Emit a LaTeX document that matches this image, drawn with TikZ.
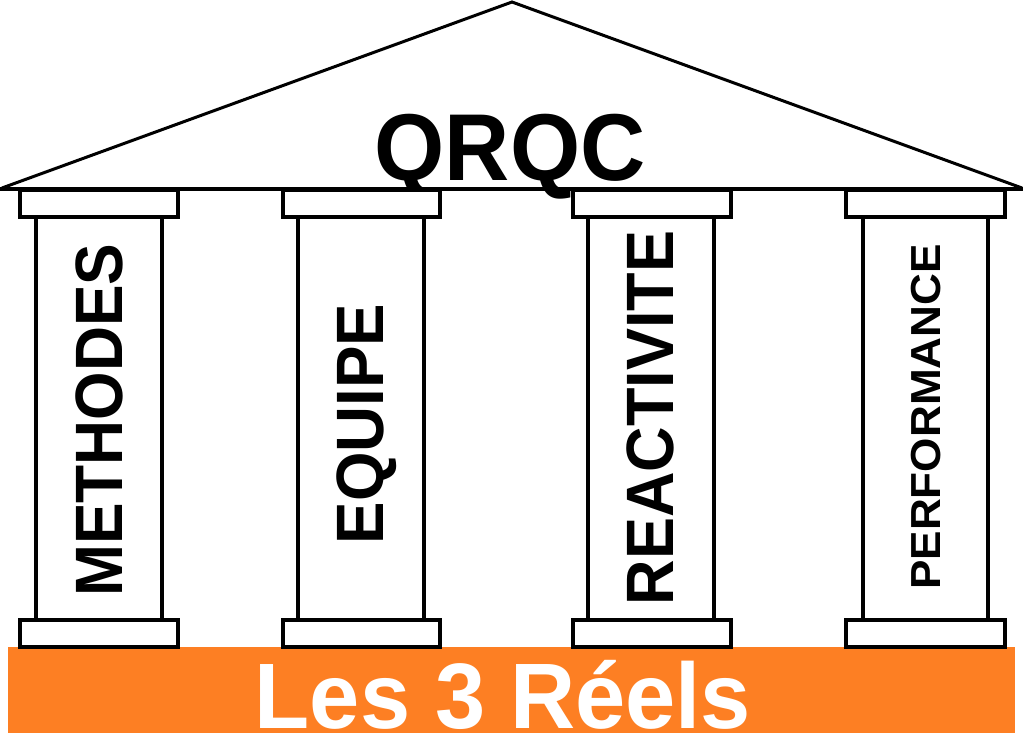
\documentclass[tikz,border=0pt]{standalone}
\usepackage{fontspec}
\setmainfont{Liberation Sans}
\usepackage{graphicx}
\usetikzlibrary{positioning}
\definecolor{socle}{RGB}{253,127,35}
\newcommand{\bigtxt}[2]{\fontsize{#1}{#1}\selectfont\bfseries #2}

\begin{document}
\begin{tikzpicture}[x=1pt,y=-1pt,
  capital/.style={draw,line width=3.5pt,fill=white},
  shaft/.style={draw,line width=3.5pt,fill=white},
  roof/.style={line width=3pt,line join=miter},
  pillartext/.style={rotate=90,anchor=base,inner sep=0pt}
]
\useasboundingbox (0,0) rectangle (1024,742);
% socle
\fill[socle] (8,647) rectangle (1015,733);
% toit
\draw[roof] (2,188) -- (512,2) -- (1022,188);
\draw[line width=4.5pt] (0,189) -- (1023,189);
\node[anchor=base,inner sep=0pt] (qrqc) at (510,180)
  {\scalebox{0.95}[1]{\bigtxt{95}{QRQC}}};

% piliers
\draw[shaft] (36,217) rectangle (162,620);
\draw[capital] (20,190) rectangle (178,217);
\draw[capital] (20,620) rectangle (178,647);
\node[pillartext] (methodes) at (122,420)
  {\scalebox{0.93}[1]{\bigtxt{67}{METHODES}}};

\draw[shaft] (298,217) rectangle (424,620);
\draw[capital] (283,190) rectangle (440,217);
\draw[capital] (283,620) rectangle (440,647);
\node[pillartext] (equipe) at (383,424)
  {\scalebox{0.95}[1]{\bigtxt{67}{EQUIPE}}};

\draw[shaft] (588,217) rectangle (714,620);
\draw[capital] (573,190) rectangle (731,217);
\draw[capital] (573,620) rectangle (731,647);
\node[pillartext] (reactivite) at (673,418)
  {\scalebox{0.94}[1]{\bigtxt{67}{REACTIVITE}}};

\draw[shaft] (863,217) rectangle (988,620);
\draw[capital] (846,190) rectangle (1005,217);
\draw[capital] (846,620) rectangle (1005,647);
\node[pillartext] (performance) at (940,417)
  {\scalebox{1.05}[1]{\bigtxt{42}{PERFORMANCE}}};

\node[anchor=base,inner sep=0pt,text=white] (reels) at (503,728)
  {\scalebox{0.97}[1]{\bigtxt{93}{Les 3 Réels}}};
\end{tikzpicture}
\end{document}
